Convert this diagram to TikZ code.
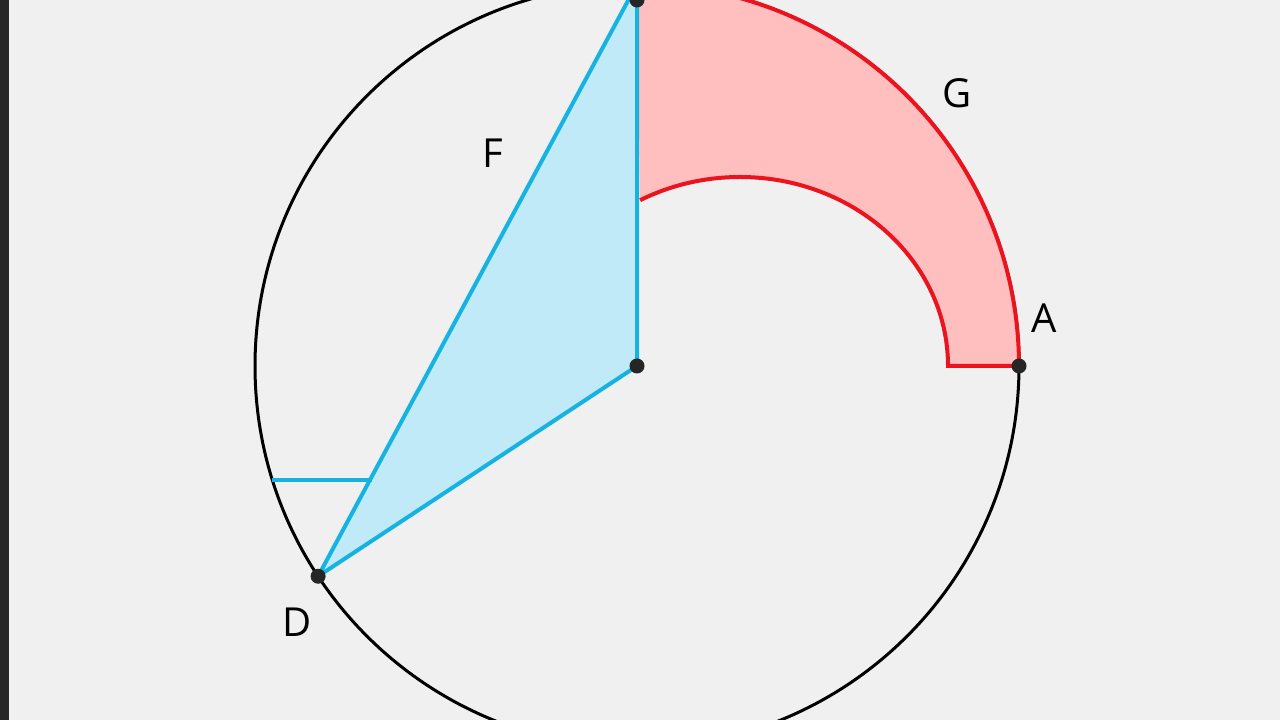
\documentclass[tikz,border=0pt]{standalone}
\usetikzlibrary{calc}
\usepackage{fontspec}
\setmainfont{Open Sans}
\definecolor{bl}{RGB}{22,178,225}
\definecolor{rd}{RGB}{235,20,30}
\begin{document}
\begin{tikzpicture}[x=1pt,y=1pt,
  lbl/.style={font=\fontsize{40}{48}\selectfont},
  dot/.style={circle,fill=black!85,inner sep=0pt,minimum size=15pt}]
\useasboundingbox (0,0) rectangle (1280,720);
\clip (0,0) rectangle (1280,720);
\fill[gray!12] (0,0) rectangle (1280,720);
\fill[black!85] (0,0) rectangle (9,720);
\coordinate (O) at (637,354);
\coordinate (T) at (637,736);
\coordinate (A) at (1019,354);
\coordinate (D) at ($(O)+(213.4:382)$);
\coordinate (I) at (948,354);
% circle
\draw[black,line width=3pt] (O) circle[radius=382];
% red band
\fill[red!25] (T) arc[start angle=90,end angle=0,radius=382] -- (I)
  arc[start angle=0,end angle=118.7,x radius=208,y radius=189] -- cycle;
\draw[rd,line width=4pt] (T) arc[start angle=90,end angle=0,radius=382] -- (I)
  arc[start angle=0,end angle=118.7,x radius=208,y radius=189];
% blue triangle
\fill[bl!27] (T) -- (O) -- (D) -- cycle;
\draw[bl,line width=4pt,line join=round] (T) -- (O) -- (D) -- cycle;
\coordinate (t1) at (272,240);
\coordinate (t2) at (372,240);
\draw[bl,line width=3.5pt] (t1) -- (t2);
\node[dot] (nO) at (O) {};
\node[dot] (nA) at (A) {};
\node[dot] (nD) at (D) {};
\node[dot] (nT) at (637,720) {};
\node[lbl] (lA) at (1044,402) {A};
\node[lbl] (lD) at (297,98) {D};
\node[lbl] (lF) at (493,567) {F};
\node[lbl] (lG) at (957,627) {G};
\end{tikzpicture}
\end{document}
